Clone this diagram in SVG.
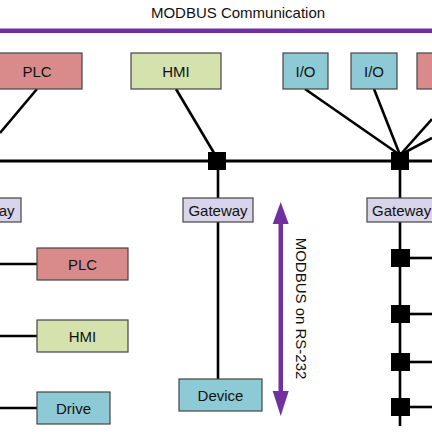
<svg xmlns="http://www.w3.org/2000/svg" width="432" height="432" viewBox="0 0 432 432">
<defs>
<style>
text{font-family:"Liberation Sans",Arial,sans-serif;font-size:15px;fill:#111;}
.box{stroke:#444;stroke-width:1.2;}
.plc{fill:#d98a8a;}
.hmi{fill:#d5e2ae;}
.io{fill:#8ecad6;}
.gw{fill:#d8d4ea;}
.ln{stroke:#000;stroke-width:2.6;fill:none;}
.bus{stroke:#000;stroke-width:3;fill:none;}
.jn{fill:#000;}
.pur{fill:#7030a0;}
</style>
</defs>
<rect width="432" height="432" fill="#fff"/>
<text x="238" y="18" text-anchor="middle">MODBUS Communication</text>
<rect class="pur" x="0" y="28.5" width="432" height="4.5"/>
<g id="connectors">
<line class="bus" x1="0" y1="161" x2="432" y2="161"/>
<line class="ln" x1="37" y1="89" x2="0" y2="133"/>
<line class="ln" x1="176" y1="89" x2="217" y2="158"/>
<line class="ln" x1="305" y1="89" x2="400" y2="155"/>
<line class="ln" x1="374" y1="89" x2="400" y2="155"/>
<line class="ln" x1="400" y1="155" x2="432" y2="119"/>
<line class="ln" x1="400" y1="155" x2="432" y2="138"/>
<line class="ln" x1="218" y1="161" x2="218" y2="379"/>
<line class="ln" x1="400" y1="161" x2="400" y2="426"/>
<line class="ln" x1="0" y1="264" x2="37" y2="264"/>
<line class="ln" x1="0" y1="336" x2="37" y2="336"/>
<line class="ln" x1="0" y1="408" x2="37" y2="408"/>
<line class="ln" x1="400" y1="258" x2="432" y2="258"/>
<line class="ln" x1="400" y1="314" x2="432" y2="314"/>
<line class="ln" x1="400" y1="362" x2="432" y2="362"/>
<line class="ln" x1="400" y1="407" x2="432" y2="407"/>
</g>
<g id="junctions">
<rect class="jn" x="208" y="152" width="18" height="18"/>
<rect class="jn" x="391" y="152" width="18" height="18"/>
<rect class="jn" x="391" y="249" width="19" height="18"/>
<rect class="jn" x="391" y="305" width="19" height="18"/>
<rect class="jn" x="391" y="353" width="19" height="18"/>
<rect class="jn" x="391" y="398" width="19" height="18"/>
</g>
<g id="plc-top"><rect class="box plc" x="-10" y="53" width="92" height="36"/><text x="37" y="76.5" text-anchor="middle">PLC</text></g>
<g id="hmi-top"><rect class="box hmi" x="131" y="53" width="90" height="36"/><text x="176" y="76.5" text-anchor="middle">HMI</text></g>
<g id="io-1"><rect class="box io" x="283" y="53" width="45" height="36"/><text x="305.5" y="76.5" text-anchor="middle">I/O</text></g>
<g id="io-2"><rect class="box io" x="351" y="53" width="46" height="36"/><text x="374" y="76.5" text-anchor="middle">I/O</text></g>
<g id="plc-right"><rect class="box plc" x="417" y="53" width="30" height="36"/></g>
<g id="gateway-left"><rect class="box gw" x="-50" y="198" width="71" height="24"/><text x="-15" y="215.5" text-anchor="middle">Gateway</text></g>
<g id="gateway-mid"><rect class="box gw" x="183" y="198" width="70" height="24"/><text x="218" y="215.5" text-anchor="middle">Gateway</text></g>
<g id="gateway-right"><rect class="box gw" x="367" y="198" width="80" height="24"/><text x="372" y="215.5">Gateway</text></g>
<g id="plc-low"><rect class="box plc" x="37" y="248" width="91" height="32"/><text x="82.5" y="269.5" text-anchor="middle">PLC</text></g>
<g id="hmi-low"><rect class="box hmi" x="37" y="320" width="91" height="32"/><text x="82.5" y="341.5" text-anchor="middle">HMI</text></g>
<g id="drive"><rect class="box io" x="37" y="392" width="73" height="32"/><text x="73.5" y="413.5" text-anchor="middle">Drive</text></g>
<g id="device"><rect class="box io" x="179" y="379" width="83" height="32"/><text x="220.5" y="400.5" text-anchor="middle">Device</text></g>
<g id="rs232-arrow">
<rect class="pur" x="278.5" y="220" width="4.5" height="175"/>
<polygon class="pur" points="280.7,202 272.7,224 288.7,224"/>
<polygon class="pur" points="280.7,416 272.7,391 288.7,391"/>
<text transform="translate(296,308.5) rotate(90)" text-anchor="middle">MODBUS on RS-232</text>
</g>
</svg>
